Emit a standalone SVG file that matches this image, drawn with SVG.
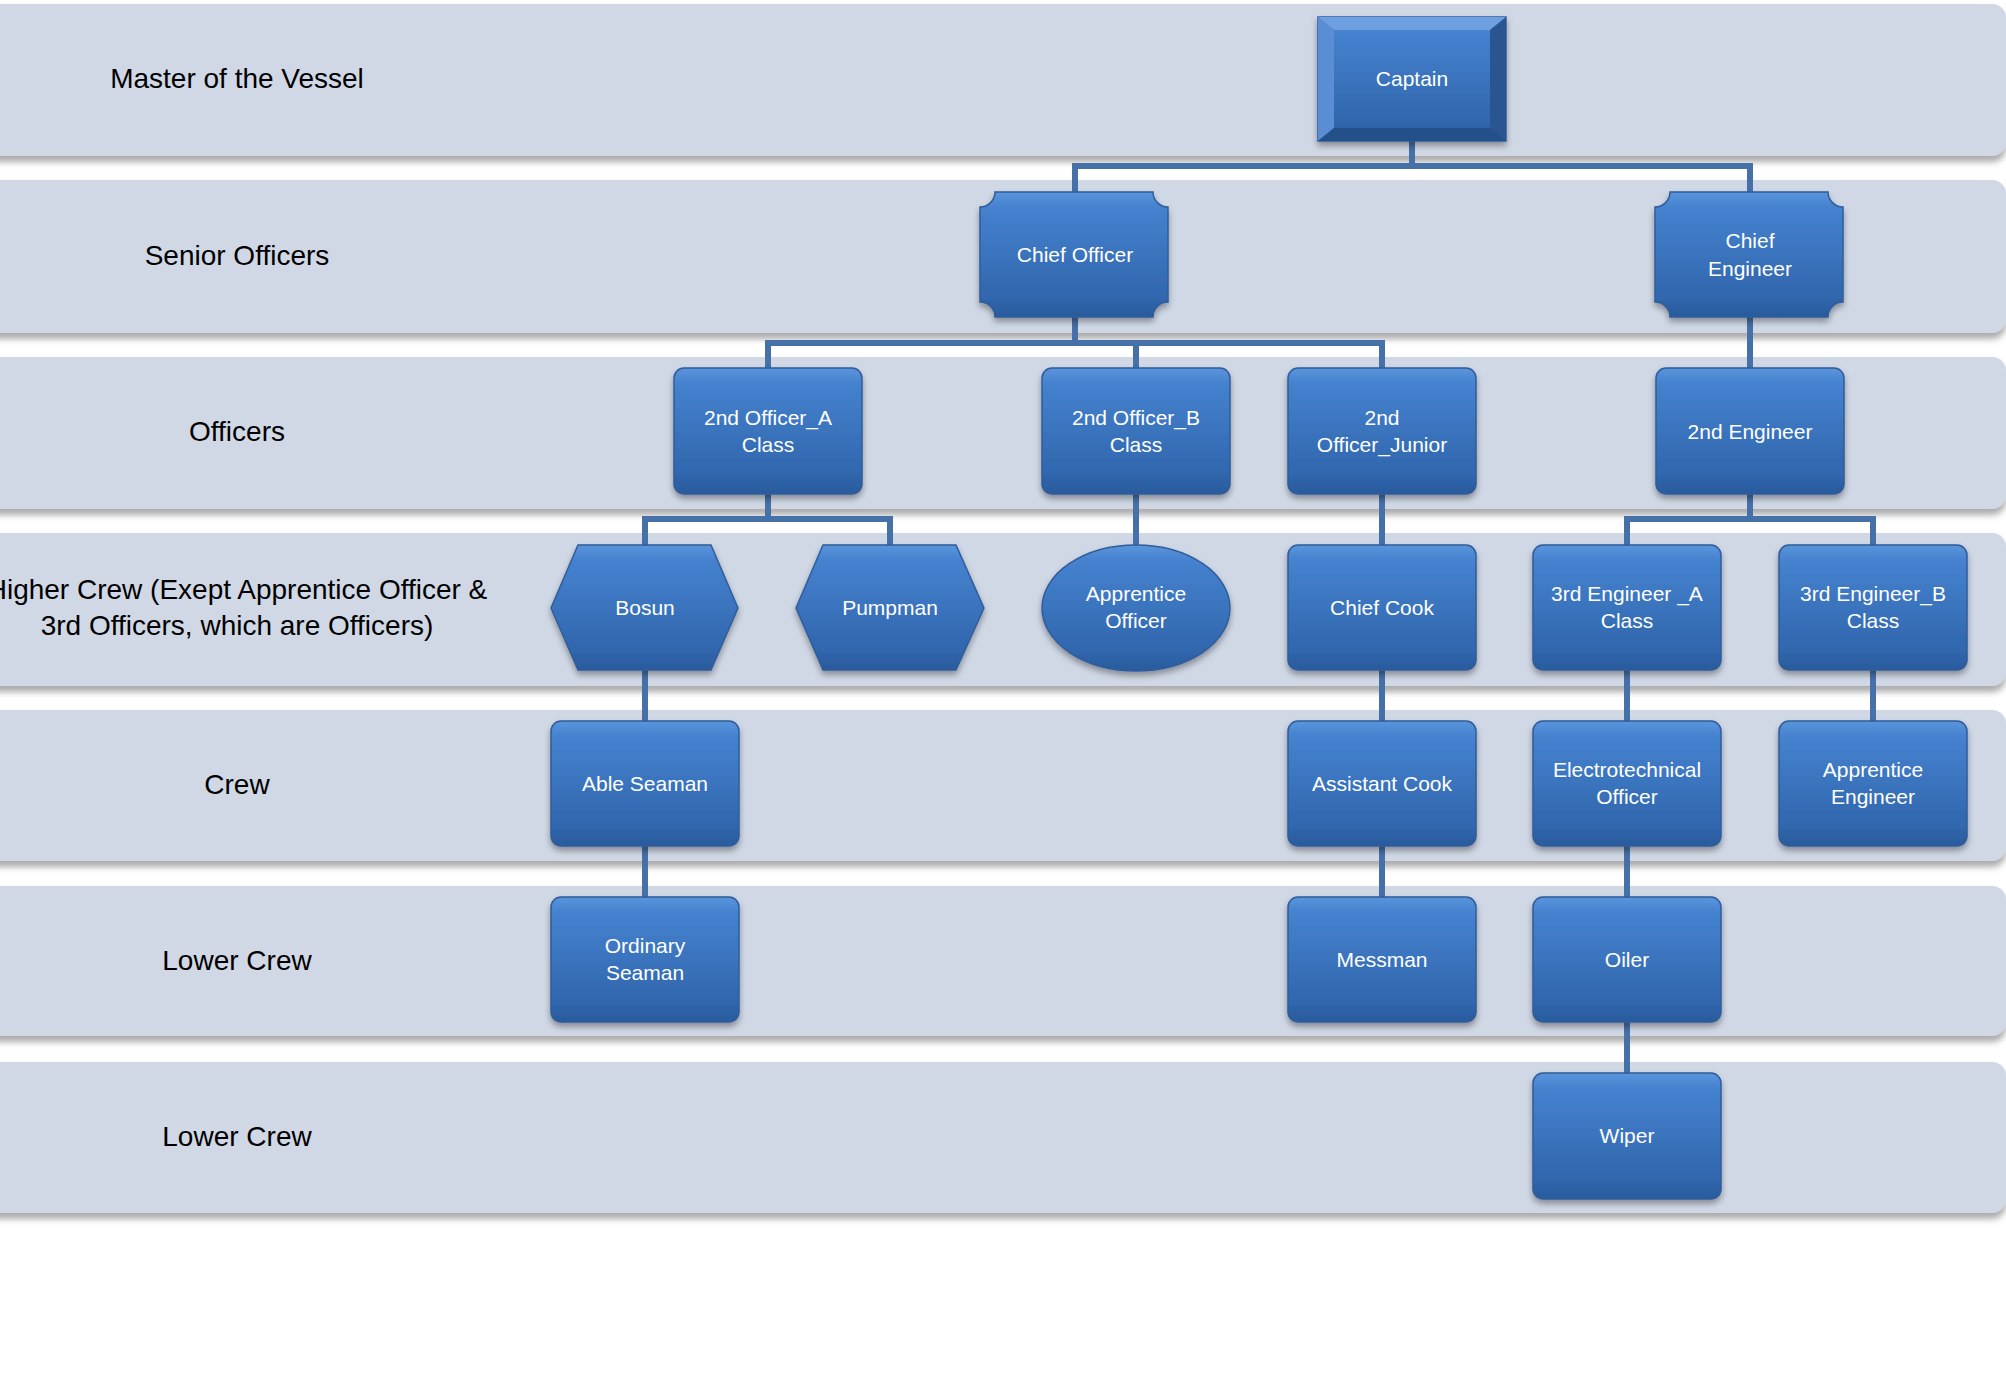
<svg xmlns="http://www.w3.org/2000/svg" width="2006" height="1387" viewBox="0 0 2006 1387">
<defs>
<linearGradient id="g" x1="0" y1="0" x2="0" y2="1">
<stop offset="0" stop-color="#5b95dc"/><stop offset="0.12" stop-color="#4582cf"/><stop offset="0.85" stop-color="#3066ad"/><stop offset="1" stop-color="#2a5a9c"/>
</linearGradient>
<filter id="sh" x="-10%" y="-10%" width="120%" height="130%"><feDropShadow dx="0" dy="4" stdDeviation="3" flood-color="#000" flood-opacity="0.35"/></filter>
<filter id="bsh" x="-5%" y="-10%" width="110%" height="130%"><feDropShadow dx="0" dy="6" stdDeviation="3" flood-color="#666" flood-opacity="0.55"/></filter>
</defs>
<style>
.band{fill:#d0d8e6;filter:url(#bsh)}
.lbl{font-family:"Liberation Sans",Arial,sans-serif;font-size:28px;fill:#000;text-anchor:middle}
.n{fill:url(#g);stroke:#2f5d99;stroke-width:1.5;filter:url(#sh)}
.t{font-family:"Liberation Sans",Arial,sans-serif;font-size:21px;fill:#fff;text-anchor:middle}
.c{fill:none;stroke:#4670a8;stroke-width:6}
</style>
<rect width="2006" height="1387" fill="#fff"/>
<g id="bands">
<rect class="band" x="-20" y="4" width="2026" height="152" rx="14"/>
<rect class="band" x="-20" y="180" width="2026" height="153" rx="14"/>
<rect class="band" x="-20" y="357" width="2026" height="152" rx="14"/>
<rect class="band" x="-20" y="533" width="2026" height="153" rx="14"/>
<rect class="band" x="-20" y="710" width="2026" height="151" rx="14"/>
<rect class="band" x="-20" y="886" width="2026" height="150" rx="14"/>
<rect class="band" x="-20" y="1062" width="2026" height="151" rx="14"/>
<text class="lbl" x="237" y="88">Master of the Vessel</text>
<text class="lbl" x="237" y="265">Senior Officers</text>
<text class="lbl" x="237" y="441">Officers</text>
<text class="lbl" x="237" y="599">Higher Crew (Exept Apprentice Officer &amp;</text>
<text class="lbl" x="237" y="635">3rd Officers, which are Officers)</text>
<text class="lbl" x="237" y="794">Crew</text>
<text class="lbl" x="237" y="970">Lower Crew</text>
<text class="lbl" x="237" y="1146">Lower Crew</text>
</g>
<g id="connectors">
<path class="c" d="M1412 141V166M1075 192V166H1750V192"/>
<path class="c" d="M1075 317V343M768 368V343H1382V368M1136 343V368"/>
<path class="c" d="M1750 317V368M1750 494V519M1627 545V519H1873V545"/>
<path class="c" d="M768 494V519M645 545V519H890V545"/>
<path class="c" d="M1136 494V545M1382 494V545"/>
<path class="c" d="M645 670V721M645 846V897"/>
<path class="c" d="M1382 670V721M1382 846V897"/>
<path class="c" d="M1627 670V721M1627 846V897M1627 1022V1073M1873 670V721"/>
</g>
<g id="captain">
<rect class="n" x="1318" y="17" width="188" height="124"/>
<polygon points="1318,17 1506,17 1490,30 1334,30" fill="#6e9fe0"/>
<polygon points="1318,17 1334,30 1334,128 1318,141" fill="#5a8dd4"/>
<polygon points="1506,17 1506,141 1490,128 1490,30" fill="#2a5590"/>
<polygon points="1318,141 1506,141 1490,128 1334,128" fill="#24508a"/>
<text class="t" x="1412" y="86">Captain</text>
</g>
<g id="chief-officer">
<path class="n" d="M995 192H1153A15 15 0 0 0 1168 207V302A15 15 0 0 0 1153 317H995A15 15 0 0 0 980 302V207A15 15 0 0 0 995 192Z"/>
<text class="t" x="1075" y="262">Chief Officer</text>
</g>
<g id="chief-engineer">
<path class="n" d="M1670 192H1828A15 15 0 0 0 1843 207V302A15 15 0 0 0 1828 317H1670A15 15 0 0 0 1655 302V207A15 15 0 0 0 1670 192Z"/>
<text class="t" x="1750" y="248">Chief</text><text class="t" x="1750" y="276">Engineer</text>
</g>
<g id="second-officer-a"><rect class="n" x="674" y="368" width="188" height="126" rx="10"/><text class="t" x="768" y="425">2nd Officer_A</text><text class="t" x="768" y="452">Class</text></g>
<g id="second-officer-b"><rect class="n" x="1042" y="368" width="188" height="126" rx="10"/><text class="t" x="1136" y="425">2nd Officer_B</text><text class="t" x="1136" y="452">Class</text></g>
<g id="second-officer-junior"><rect class="n" x="1288" y="368" width="188" height="126" rx="10"/><text class="t" x="1382" y="425">2nd</text><text class="t" x="1382" y="452">Officer_Junior</text></g>
<g id="second-engineer"><rect class="n" x="1656" y="368" width="188" height="126" rx="10"/><text class="t" x="1750" y="439">2nd Engineer</text></g>
<g id="bosun"><polygon class="n" points="551,608 578,545 711,545 738,608 711,670 578,670"/><text class="t" x="645" y="615">Bosun</text></g>
<g id="pumpman"><polygon class="n" points="796,608 823,545 956,545 984,608 956,670 823,670"/><text class="t" x="890" y="615">Pumpman</text></g>
<g id="apprentice-officer"><ellipse class="n" cx="1136" cy="608" rx="94" ry="63"/><text class="t" x="1136" y="601">Apprentice</text><text class="t" x="1136" y="628">Officer</text></g>
<g id="chief-cook"><rect class="n" x="1288" y="545" width="188" height="125" rx="10"/><text class="t" x="1382" y="615">Chief Cook</text></g>
<g id="third-engineer-a"><rect class="n" x="1533" y="545" width="188" height="125" rx="10"/><text class="t" x="1627" y="601">3rd Engineer _A</text><text class="t" x="1627" y="628">Class</text></g>
<g id="third-engineer-b"><rect class="n" x="1779" y="545" width="188" height="125" rx="10"/><text class="t" x="1873" y="601">3rd Engineer_B</text><text class="t" x="1873" y="628">Class</text></g>
<g id="able-seaman"><rect class="n" x="551" y="721" width="188" height="125" rx="10"/><text class="t" x="645" y="791">Able Seaman</text></g>
<g id="assistant-cook"><rect class="n" x="1288" y="721" width="188" height="125" rx="10"/><text class="t" x="1382" y="791">Assistant Cook</text></g>
<g id="electrotechnical-officer"><rect class="n" x="1533" y="721" width="188" height="125" rx="10"/><text class="t" x="1627" y="777">Electrotechnical</text><text class="t" x="1627" y="804">Officer</text></g>
<g id="apprentice-engineer"><rect class="n" x="1779" y="721" width="188" height="125" rx="10"/><text class="t" x="1873" y="777">Apprentice</text><text class="t" x="1873" y="804">Engineer</text></g>
<g id="ordinary-seaman"><rect class="n" x="551" y="897" width="188" height="125" rx="10"/><text class="t" x="645" y="953">Ordinary</text><text class="t" x="645" y="980">Seaman</text></g>
<g id="messman"><rect class="n" x="1288" y="897" width="188" height="125" rx="10"/><text class="t" x="1382" y="967">Messman</text></g>
<g id="oiler"><rect class="n" x="1533" y="897" width="188" height="125" rx="10"/><text class="t" x="1627" y="967">Oiler</text></g>
<g id="wiper"><rect class="n" x="1533" y="1073" width="188" height="126" rx="10"/><text class="t" x="1627" y="1143">Wiper</text></g>
</svg>
